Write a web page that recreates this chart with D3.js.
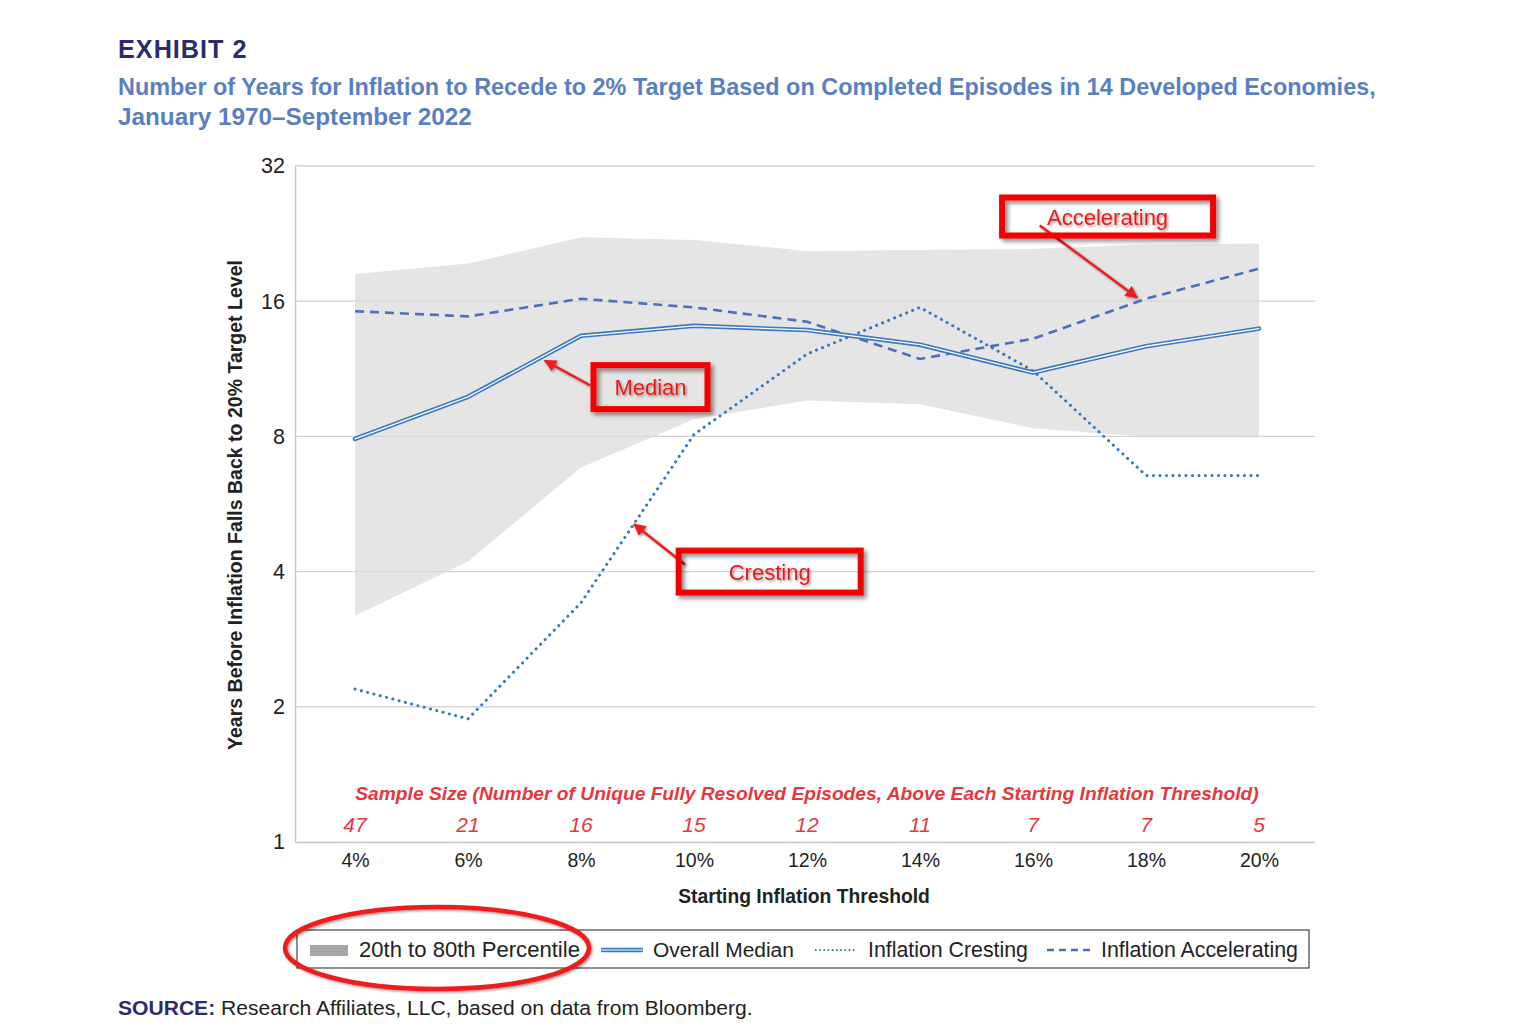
<!DOCTYPE html>
<html><head><meta charset="utf-8">
<script src="https://cdn.jsdelivr.net/npm/d3@7"></script>
<style>
body{margin:0;background:#fff;}
svg text{font-family:"Liberation Sans",Arial,sans-serif;}
</style></head>
<body><svg id="c" width="1536" height="1035"></svg>
<script>
const categories = ["4%","6%","8%","10%","12%","14%","16%","18%","20%"];
const sampleSizes = [47,21,16,15,12,11,7,7,5];
const median = [7.9,9.8,13.4,14.1,13.8,12.8,11.1,12.7,13.9];
const cresting = [2.19,1.88,3.41,8.08,12.2,15.5,11.2,6.55,6.55];
const accelerating = [15.2,14.8,16.2,15.5,14.4,11.9,13.2,16.2,18.9];
const bandHigh = [18.4,19.4,22.2,21.9,20.7,20.8,20.9,21.4,21.5];
const bandLow = [3.19,4.21,6.82,8.73,9.62,9.43,8.34,8.0,7.95];
const yTicks = [1,2,4,8,16,32];

const svg = d3.select("#c");
const L=295,R=1315,T=166,B=842;
const x = d3.scalePoint().domain(categories).range([L+60,R-56]).padding(0);
const y = d3.scaleLog().base(2).domain([1,32]).range([B,T]);
const xi = i => x(categories[0]) + i*x.step();

function fit(sel, w){
  const n = sel.node(); const fs = parseFloat(sel.attr("font-size"));
  const len = n.getComputedTextLength();
  if(len>0) sel.attr("font-size", (fs*w/len).toFixed(2));
  return sel;
}

// titles
fit(svg.append("text").attr("x",118).attr("y",58).text("EXHIBIT 2")
  .attr("font-size",24).attr("font-weight","bold").attr("fill","#2e2b6c").style("letter-spacing","1px"),130);
fit(svg.append("text").attr("x",118).attr("y",95).text("Number of Years for Inflation to Recede to 2% Target Based on Completed Episodes in 14 Developed Economies,")
  .attr("font-size",22).attr("font-weight","bold").attr("fill","#5a7fc1"),1258);
fit(svg.append("text").attr("x",118).attr("y",125).text("January 1970–September 2022")
  .attr("font-size",22).attr("font-weight","bold").attr("fill","#5a7fc1"),354);

// gridlines
svg.append("g").selectAll("line").data(yTicks.slice(1)).join("line")
  .attr("x1",L).attr("x2",R).attr("y1",d=>y(d)).attr("y2",d=>y(d))
  .attr("stroke","#d9d9d9").attr("stroke-width",1.3);

// band
const area = d3.area().x((d,i)=>x(categories[i])).y0((d,i)=>y(bandLow[i])).y1(d=>y(d));
svg.append("path").datum(bandHigh).attr("d",area).attr("fill","#e2e2e2").attr("fill-opacity",0.9);

svg.append("g").selectAll("line").data(yTicks.slice(1)).join("line")
  .attr("x1",L).attr("x2",R).attr("y1",d=>y(d)).attr("y2",d=>y(d))
  .attr("stroke","#cfcfcf").attr("stroke-width",1).attr("stroke-opacity",0.6);

// axes
const yAxis = d3.axisLeft(y).tickValues(yTicks).tickFormat(d3.format("d")).tickSize(0).tickPadding(10);
const gy = svg.append("g").attr("transform",`translate(${L},0)`).call(yAxis);
gy.select(".domain").attr("stroke","#c8c8c8").attr("stroke-width",1.5);
gy.selectAll("text").attr("font-family","Liberation Sans,Arial,sans-serif").attr("font-size",21.5).attr("fill","#222");
const xAxis = d3.axisBottom(x).tickSize(0).tickPadding(11);
const gx = svg.append("g").attr("transform",`translate(0,${B})`).call(xAxis);
gx.select(".domain").attr("stroke","#c8c8c8").attr("stroke-width",1.5).attr("d",`M${L},0.5H${R}`);
gx.selectAll("text").attr("font-family","Liberation Sans,Arial,sans-serif").attr("font-size",19.5).attr("fill","#222").attr("dy","0.71em");

// lines
const line = arr => d3.line().x((d,i)=>x(categories[i])).y(d=>y(d))(arr);
svg.append("path").attr("d",line(accelerating)).attr("fill","none").attr("stroke","#4a6fbd").attr("stroke-width",2.6).attr("stroke-dasharray","9,6");
svg.append("path").attr("d",line(cresting)).attr("fill","none").attr("stroke","#3478c4").attr("stroke-width",3).attr("stroke-dasharray","0.1,6.4").attr("stroke-linecap","round");
svg.append("path").attr("d",line(median)).attr("fill","none").attr("stroke","#3a78c0").attr("stroke-width",4.5).attr("stroke-linejoin","round").attr("stroke-linecap","round");
svg.append("path").attr("d",line(median)).attr("fill","none").attr("stroke","#fff").attr("stroke-width",1.3).attr("stroke-linejoin","round").attr("stroke-linecap","round");

// sample size
const midX = (x(categories[0])+x(categories[categories.length-1]))/2;
fit(svg.append("text").attr("x",midX).attr("y",800).attr("text-anchor","middle")
  .text("Sample Size (Number of Unique Fully Resolved Episodes, Above Each Starting Inflation Threshold)")
  .attr("font-size",19).attr("font-style","italic").attr("font-weight","bold").attr("fill","#e8373c"),904);
svg.append("g").selectAll("text").data(sampleSizes).join("text")
  .attr("x",(d,i)=>x(categories[i])).attr("y",832).attr("text-anchor","middle").text(d=>d)
  .attr("font-size",21).attr("font-style","italic").attr("fill","#e8373c");

// axis titles
fit(svg.append("text").attr("x",804).attr("y",903).attr("text-anchor","middle").text("Starting Inflation Threshold")
  .attr("font-size",20).attr("font-weight","bold").attr("fill","#222"),252);
fit(svg.append("text").attr("transform","translate(242,505) rotate(-90)").attr("text-anchor","middle")
  .text("Years Before Inflation Falls Back to 20% Target Level")
  .attr("font-size",20).attr("font-weight","bold").attr("fill","#222"),490);

// annotations
const defs = svg.append("defs");
defs.append("marker").attr("id","ah").attr("viewBox","0 0 10 10").attr("refX",9).attr("refY",5)
  .attr("markerWidth",5).attr("markerHeight",5).attr("orient","auto")
  .append("path").attr("d","M0,0L10,5L0,10z").attr("fill","#ee1c1c");
const f = defs.append("filter").attr("id","sh").attr("x","-20%").attr("y","-20%").attr("width","150%").attr("height","150%");
f.append("feDropShadow").attr("dx",3).attr("dy",3).attr("stdDeviation",2).attr("flood-color","#000").attr("flood-opacity",0.45);
const ft = defs.append("filter").attr("id","tsh");
ft.append("feDropShadow").attr("dx",1.5).attr("dy",1.5).attr("stdDeviation",0.8).attr("flood-color","#000").attr("flood-opacity",0.4);

const notes = [
  {t:"Median", cx:2.615, cv:10.3, w:114, h:44, sx:2.08, sv:10.4, ex:1.68, ev:11.8},
  {t:"Accelerating", cx:6.66, cv:24.7, w:211, h:38, sx:6.06, sv:23.6, ex:6.92, ev:16.3},
  {t:"Cresting", cx:3.67, cv:4.0, w:182, h:42, sx:2.92, sv:4.15, ex:2.47, ev:5.1}
];
const xv = v => xi(0) + v*x.step();
notes.forEach(n=>{
  const cx = xv(n.cx), cy = y(n.cv);
  svg.append("line").attr("x1",xv(n.sx)).attr("y1",y(n.sv)).attr("x2",xv(n.ex)).attr("y2",y(n.ev))
    .attr("stroke","#ee1c1c").attr("stroke-width",2.5).attr("marker-end","url(#ah)").attr("filter","url(#tsh)");
  svg.append("rect").attr("x",cx-n.w/2).attr("y",cy-n.h/2).attr("width",n.w).attr("height",n.h)
    .attr("fill","none").attr("stroke","#f50000").attr("stroke-width",6).attr("filter","url(#sh)");
  svg.append("text").attr("x",cx).attr("y",cy+8).attr("text-anchor","middle").text(n.t)
    .attr("font-size",22).attr("fill","#f01818").attr("filter","url(#tsh)");
});

// legend
svg.append("rect").attr("x",297).attr("y",930).attr("width",1012).attr("height",38).attr("fill","none").attr("stroke","#444").attr("stroke-width",1.2);
const ly = 950;
svg.append("rect").attr("x",310).attr("y",ly-5).attr("width",38).attr("height",11).attr("fill","#a6a6a6");
fit(svg.append("text").attr("x",359).attr("y",ly+7).text("20th to 80th Percentile").attr("font-size",20).attr("fill","#222"),221);
svg.append("line").attr("x1",601).attr("x2",643).attr("y1",ly).attr("y2",ly).attr("stroke","#3a78c0").attr("stroke-width",4.5);
svg.append("line").attr("x1",601).attr("x2",643).attr("y1",ly).attr("y2",ly).attr("stroke","#b9d3ee").attr("stroke-width",1.3);
fit(svg.append("text").attr("x",653).attr("y",ly+7).text("Overall Median").attr("font-size",20).attr("fill","#222"),141);
svg.append("line").attr("x1",815).attr("x2",856).attr("y1",ly).attr("y2",ly).attr("stroke","#3478c4").attr("stroke-width",2.2).attr("stroke-dasharray","1.6,2.6");
fit(svg.append("text").attr("x",868).attr("y",ly+7).text("Inflation Cresting").attr("font-size",20).attr("fill","#222"),160);
svg.append("line").attr("x1",1047).attr("x2",1092).attr("y1",ly).attr("y2",ly).attr("stroke","#4a6fbd").attr("stroke-width",2.6).attr("stroke-dasharray","7,5");
fit(svg.append("text").attr("x",1101).attr("y",ly+7).text("Inflation Accelerating").attr("font-size",20).attr("fill","#222"),197);
svg.append("ellipse").attr("cx",437).attr("cy",948).attr("rx",152).attr("ry",41).attr("fill","none")
  .attr("stroke","#ee1c1c").attr("stroke-width",4.5).attr("filter","url(#tsh)");

// source
const src = svg.append("text").attr("x",118).attr("y",1015).attr("font-size",19).attr("fill","#222");
src.append("tspan").text("SOURCE:").attr("font-weight","bold").attr("fill","#2e2b6c");
src.append("tspan").text(" Research Affiliates, LLC, based on data from Bloomberg.");
fit(src,635);
</script></body></html>
